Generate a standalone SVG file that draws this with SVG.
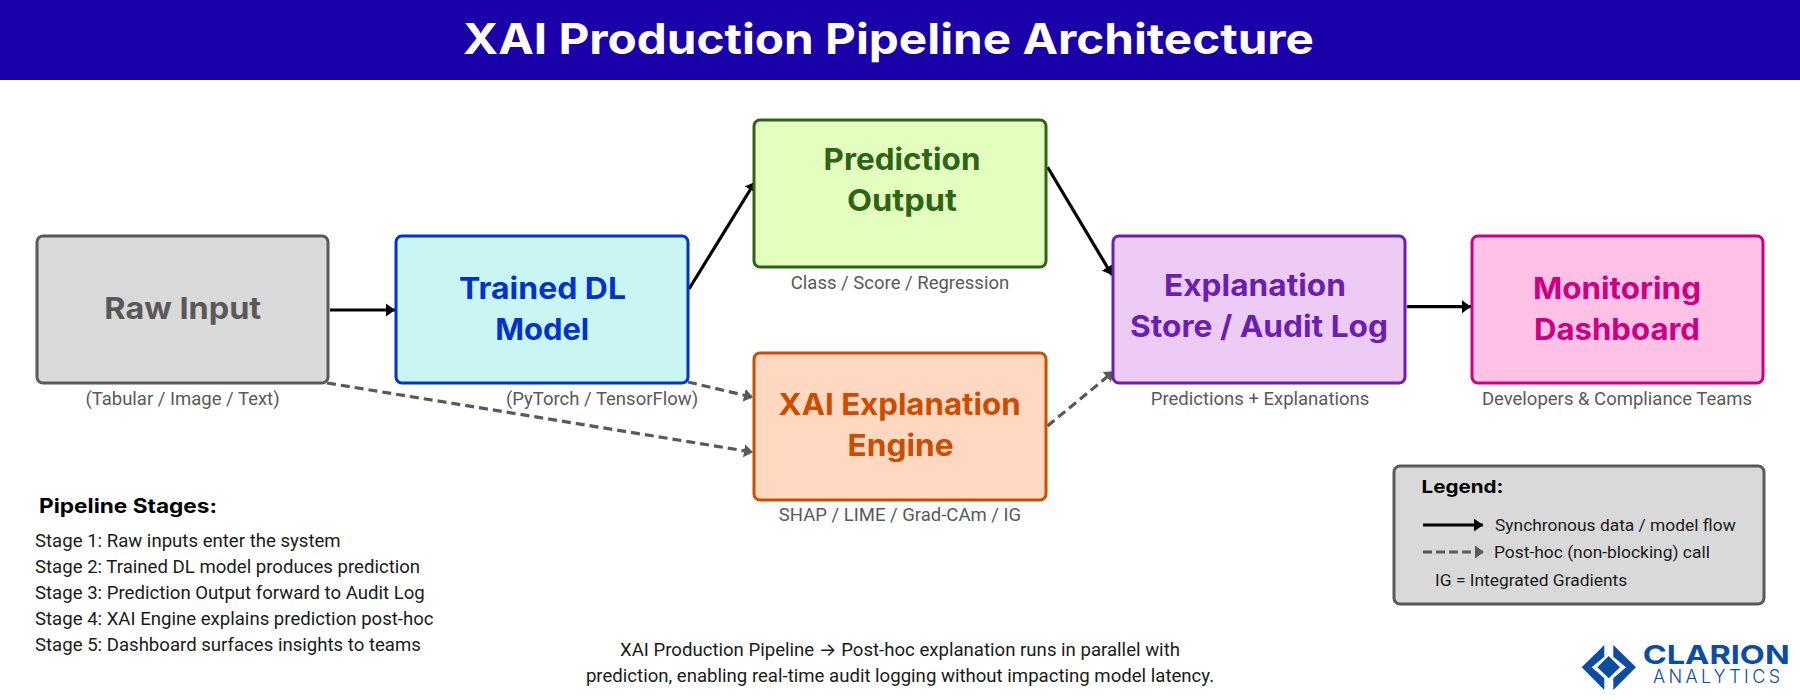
<svg xmlns="http://www.w3.org/2000/svg" width="1800" height="700" viewBox="0 0 1800 700">
<style>
.box{stroke-width:3}
.h{font-family:"Inter","Liberation Sans",sans-serif;font-weight:700;font-size:30px;text-anchor:middle}
.s{font-family:"Roboto","Liberation Sans",sans-serif;font-size:18.500px;fill:#595959;text-anchor:middle}
.t{font-family:"Roboto","Liberation Sans",sans-serif;font-size:18.600px;fill:#1a1a1a}
.l{font-family:"Roboto","Liberation Sans",sans-serif;font-size:17.400px;fill:#1a1a1a}
.b{font-family:"Inter","Liberation Sans",sans-serif;font-weight:700;font-size:20px;fill:#000}
.sync{fill:none;stroke:#000;stroke-width:3.200;marker-end:url(#a)}
.post{fill:none;stroke:#595959;stroke-width:3.200;stroke-dasharray:9 5;marker-end:url(#d)}
</style>
<defs>
<marker id="a" markerUnits="userSpaceOnUse" markerWidth="11" markerHeight="14" refX="9" refY="7" orient="auto"><path d="M0 .5L9 7L0 13.500Z" fill="#000"/></marker>
<marker id="d" markerUnits="userSpaceOnUse" markerWidth="11" markerHeight="14" refX="8" refY="7" orient="auto"><path d="M0 .5L9 7L0 13.500Z" fill="#595959"/></marker>
</defs>
<rect width="1800" height="700" fill="#fff"/>
<g id="header"><rect width="1800" height="80" fill="#1a00a8"/>
<text x="888.500" y="53.500" text-anchor="middle" font-family="Inter,'Liberation Sans',sans-serif" font-weight="700" font-size="42" fill="#fff" textLength="851" lengthAdjust="spacingAndGlyphs">XAI Production Pipeline Architecture</text></g>
<g id="connectors">
<path class="sync" d="M330 310H395"/>
<path class="sync" d="M689 289L755 182"/>
<path class="sync" d="M1047.500 167L1112 275"/>
<path class="sync" d="M1407 306.700H1471"/>
<path class="post" d="M327 383L752 452"/>
<path class="post" d="M688 382L752 397"/>
<path class="post" d="M1047.500 426L1113 372"/>
</g>
<g id="raw-input"><rect class="box" x="37" y="236" width="291" height="147" rx="6" fill="#d9d9d9" stroke="#595959"/>
<text class="h" x="182.750" y="319" fill="#595959" textLength="157" lengthAdjust="spacingAndGlyphs">Raw Input</text>
<text class="s" x="182.500" y="405">(Tabular / Image / Text)</text></g>
<g id="trained-model"><rect class="box" x="396" y="236" width="292" height="147" rx="6" fill="#c9f5f5" stroke="#0033cc"/>
<text class="h" x="542.500" y="298.500" fill="#0033cc" textLength="167" lengthAdjust="spacingAndGlyphs">Trained DL</text><text class="h" x="542.200" y="339.500" fill="#0033cc" textLength="94" lengthAdjust="spacingAndGlyphs">Model</text>
<text class="s" x="602" y="405">(PyTorch / TensorFlow)</text></g>
<g id="prediction-output"><rect class="box" x="754" y="120" width="292" height="147" rx="6" fill="#e2ffc0" stroke="#2e6414"/>
<text class="h" x="902" y="170" fill="#2e6414" textLength="157" lengthAdjust="spacingAndGlyphs">Prediction</text><text class="h" x="902" y="211" fill="#2e6414" textLength="110" lengthAdjust="spacingAndGlyphs">Output</text>
<text class="s" x="900" y="289">Class / Score / Regression</text></g>
<g id="xai-engine"><rect class="box" x="754" y="353" width="292" height="147" rx="6" fill="#ffd8c2" stroke="#cc4c00"/>
<text class="h" x="899.600" y="415" fill="#cc4c00" textLength="242" lengthAdjust="spacingAndGlyphs">XAI Explanation</text><text class="h" x="900.500" y="456" fill="#cc4c00" textLength="106" lengthAdjust="spacingAndGlyphs">Engine</text>
<text class="s" x="900" y="521">SHAP / LIME / Grad-CAm / IG</text></g>
<g id="explanation-store"><rect class="box" x="1113" y="236" width="292" height="147" rx="6" fill="#eccbf5" stroke="#6a1fb0"/>
<text class="h" x="1255" y="296" fill="#6a1fb0" textLength="182" lengthAdjust="spacingAndGlyphs">Explanation</text><text class="h" x="1259" y="337" fill="#6a1fb0" textLength="258" lengthAdjust="spacingAndGlyphs">Store / Audit Log</text>
<text class="s" x="1260" y="405">Predictions + Explanations</text></g>
<g id="monitoring-dashboard"><rect class="box" x="1472" y="236" width="291" height="147" rx="6" fill="#ffc2e6" stroke="#cc0080"/>
<text class="h" x="1617" y="298.500" fill="#cc0080" textLength="168" lengthAdjust="spacingAndGlyphs">Monitoring</text><text class="h" x="1617" y="339.500" fill="#cc0080" textLength="166" lengthAdjust="spacingAndGlyphs">Dashboard</text>
<text class="s" x="1617" y="405">Developers &amp; Compliance Teams</text></g>
<g id="stages">
<text class="b" x="39" y="513" textLength="178" lengthAdjust="spacingAndGlyphs">Pipeline Stages:</text>
<text class="t" x="35" y="547">Stage 1: Raw inputs enter the system</text>
<text class="t" x="35" y="573">Stage 2: Trained DL model produces prediction</text>
<text class="t" x="35" y="599">Stage 3: Prediction Output forward to Audit Log</text>
<text class="t" x="35" y="625">Stage 4: XAI Engine explains prediction post-hoc</text>
<text class="t" x="35" y="651">Stage 5: Dashboard surfaces insights to teams</text>
</g>
<g id="caption">
<text class="t" x="900" y="656" text-anchor="middle">XAI Production Pipeline <tspan font-family="Inter,'DejaVu Sans',sans-serif">→</tspan> Post-hoc explanation runs in parallel with</text>
<text class="t" x="900" y="682" text-anchor="middle">prediction, enabling real-time audit logging without impacting model latency.</text>
</g>
<g id="legend"><rect x="1394" y="466" width="370" height="138" rx="6" fill="#d9d9d9" stroke="#595959" stroke-width="3"/>
<text class="b" x="1421.500" y="493" style="font-size:18px" textLength="82" lengthAdjust="spacingAndGlyphs">Legend:</text>
<path class="sync" d="M1423 525H1483"/>
<text class="l" x="1495" y="531">Synchronous data / model flow</text>
<path class="post" d="M1423 552H1483" style="stroke-dasharray:9 4"/>
<text class="l" x="1494" y="558">Post-hoc (non-blocking) call</text>
<text class="l" x="1435" y="586">IG = Integrated Gradients</text>
</g>
<g id="logo" fill="#0c4da2">
<path d="M1581.700 667.300L1604.300 645V656.700L1591.700 667.300L1604.300 678.300V690Z"/>
<path d="M1613.300 645L1636 667.300L1613.300 690V678.300L1626 667.300L1613.300 656.700Z"/>
<path d="M1597.300 667.300L1608.700 656L1620 667.300L1608.700 678.300Z"/>
<text x="1642.700" y="664" font-family="Inter,'Liberation Sans',sans-serif" font-weight="700" font-size="26" textLength="147" lengthAdjust="spacingAndGlyphs">CLARION</text>
<text x="1653" y="682.500" font-family="Inter,'Liberation Sans',sans-serif" font-weight="300" font-size="18" textLength="127" lengthAdjust="spacing">ANALYTICS</text>
</g>
</svg>
